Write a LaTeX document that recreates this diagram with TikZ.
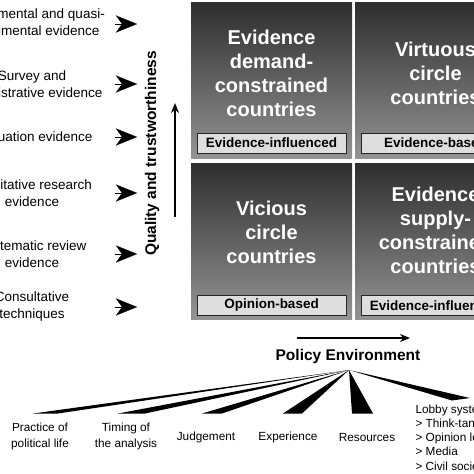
\documentclass[tikz,border=0pt]{standalone}
\usepackage{fontspec}
\setmainfont{Liberation Sans}
\usetikzlibrary{arrows.meta}
\tikzset{
  quad/.style     = {top color=black!82,bottom color=black!42,minimum width=161pt,minimum height=156pt,inner sep=0pt},
  quadtext/.style = {white,align=center,font=\fontsize{20}{24}\selectfont\bfseries},
  tagbox/.style   = {draw=black!85,fill=black!13,line width=0.8pt,minimum width=149pt,minimum height=20pt,inner sep=0pt,font=\fontsize{13.5}{16}\selectfont\bfseries},
  evtext/.style   = {align=center,font=\fontsize{13.5}{17}\selectfont},
  factor/.style   = {align=center,font=\fontsize{11.8}{16}\selectfont},
  axisarr/.style  = {-{Stealth[length=10pt,width=8pt]},line width=1.6pt},
  axislabel/.style= {font=\fontsize{15.5}{18}\selectfont\bfseries},
  pointer/.style  = {-{Stealth[length=21pt,width=17pt,inset=6pt]},line width=0.1pt}
}

\begin{document}
\begin{tikzpicture}[x=1pt,y=-1pt]
  \useasboundingbox (0,0) rectangle (474,474);
  \clip (0,0) rectangle (474,474);
  % the four quadrants
  \node[quad] (ul) at (271.5,80.5) {};
  \node[quad] (ur) at (435.5,80.5) {};
  \node[quad] (ll) at (271.5,241) {};
  \node[quad] (lr) at (435.5,241) {};
  \node[quadtext] (ultext) at (271.5,73) {Evidence\\demand-\\constrained\\countries};
  \node[quadtext] (urtext) at (435.5,73) {Virtuous\\circle\\countries};
  \node[quadtext] (lltext) at (271.5,232) {Vicious\\circle\\countries};
  \node[quadtext] (lrtext) at (435.5,230) {Evidence\\supply-\\constrained\\countries};
  \node[tagbox] (ultag) at (271.5,143) {Evidence-influenced};
  \node[tagbox] (urtag) at (435.5,143) {Evidence-based};
  \node[tagbox] (lltag) at (271.5,305.5) {Opinion-based};
  \node[tagbox] (lrtag) at (435.5,305.5) {Evidence-influenced};
  % kinds of evidence
  \foreach \i/\y/\txt in {1/24/{Experimental and quasi-\\experimental evidence},
                          2/84/{Survey and\\administrative evidence},
                          3/137/{Evaluation evidence},
                          4/193/{Qualitative research\\evidence},
                          5/254/{Systematic review\\evidence},
                          6/307/{Consultative\\techniques}}{
    \node[evtext] (ev\i) at (32,\y) {\txt};
    \coordinate (pt\i) at (137,\y);
    \draw[pointer] ([xshift=-22pt]pt\i) -- (pt\i);
  }
  % axes
  \node[axislabel,rotate=90] (quality) at (152,153.5) {Quality and trustworthiness};
  \coordinate (qlow) at (175,217);
  \coordinate (qhigh) at (175,103);
  \draw[axisarr] (qlow) -- (qhigh);
  \coordinate (plow) at (297,338);
  \coordinate (phigh) at (410,338);
  \draw[axisarr] (plow) -- (phigh);
  \node[axislabel] (policy) at (348,356) {Policy Environment};
  % fan of factors
  \coordinate (apex) at (349,370);
  \foreach \a/\b in {33/58,118/145,202/222,283/302,352/373}
    \fill (apex) -- (\a,413.5) -- (\b,413.5) -- cycle;
  \fill (apex) -- (470,398) -- (452,400.5) -- cycle;
  \node[factor] (practice) at (40,436) {Practice of\\political life};
  \node[factor] (timing) at (126,436) {Timing of\\the analysis};
  \node[factor] (judge) at (206,437) {Judgement};
  \node[factor] (exper) at (288,437) {Experience};
  \node[factor] (resour) at (367,437) {Resources};
  \node[factor,align=left,anchor=north west,font=\fontsize{11.8}{14.3}\selectfont] (lobby) at (412,401)
    {Lobby system\\> Think-tanks\\> Opinion leaders\\> Media\\> Civil society};
\end{tikzpicture}
\end{document}
